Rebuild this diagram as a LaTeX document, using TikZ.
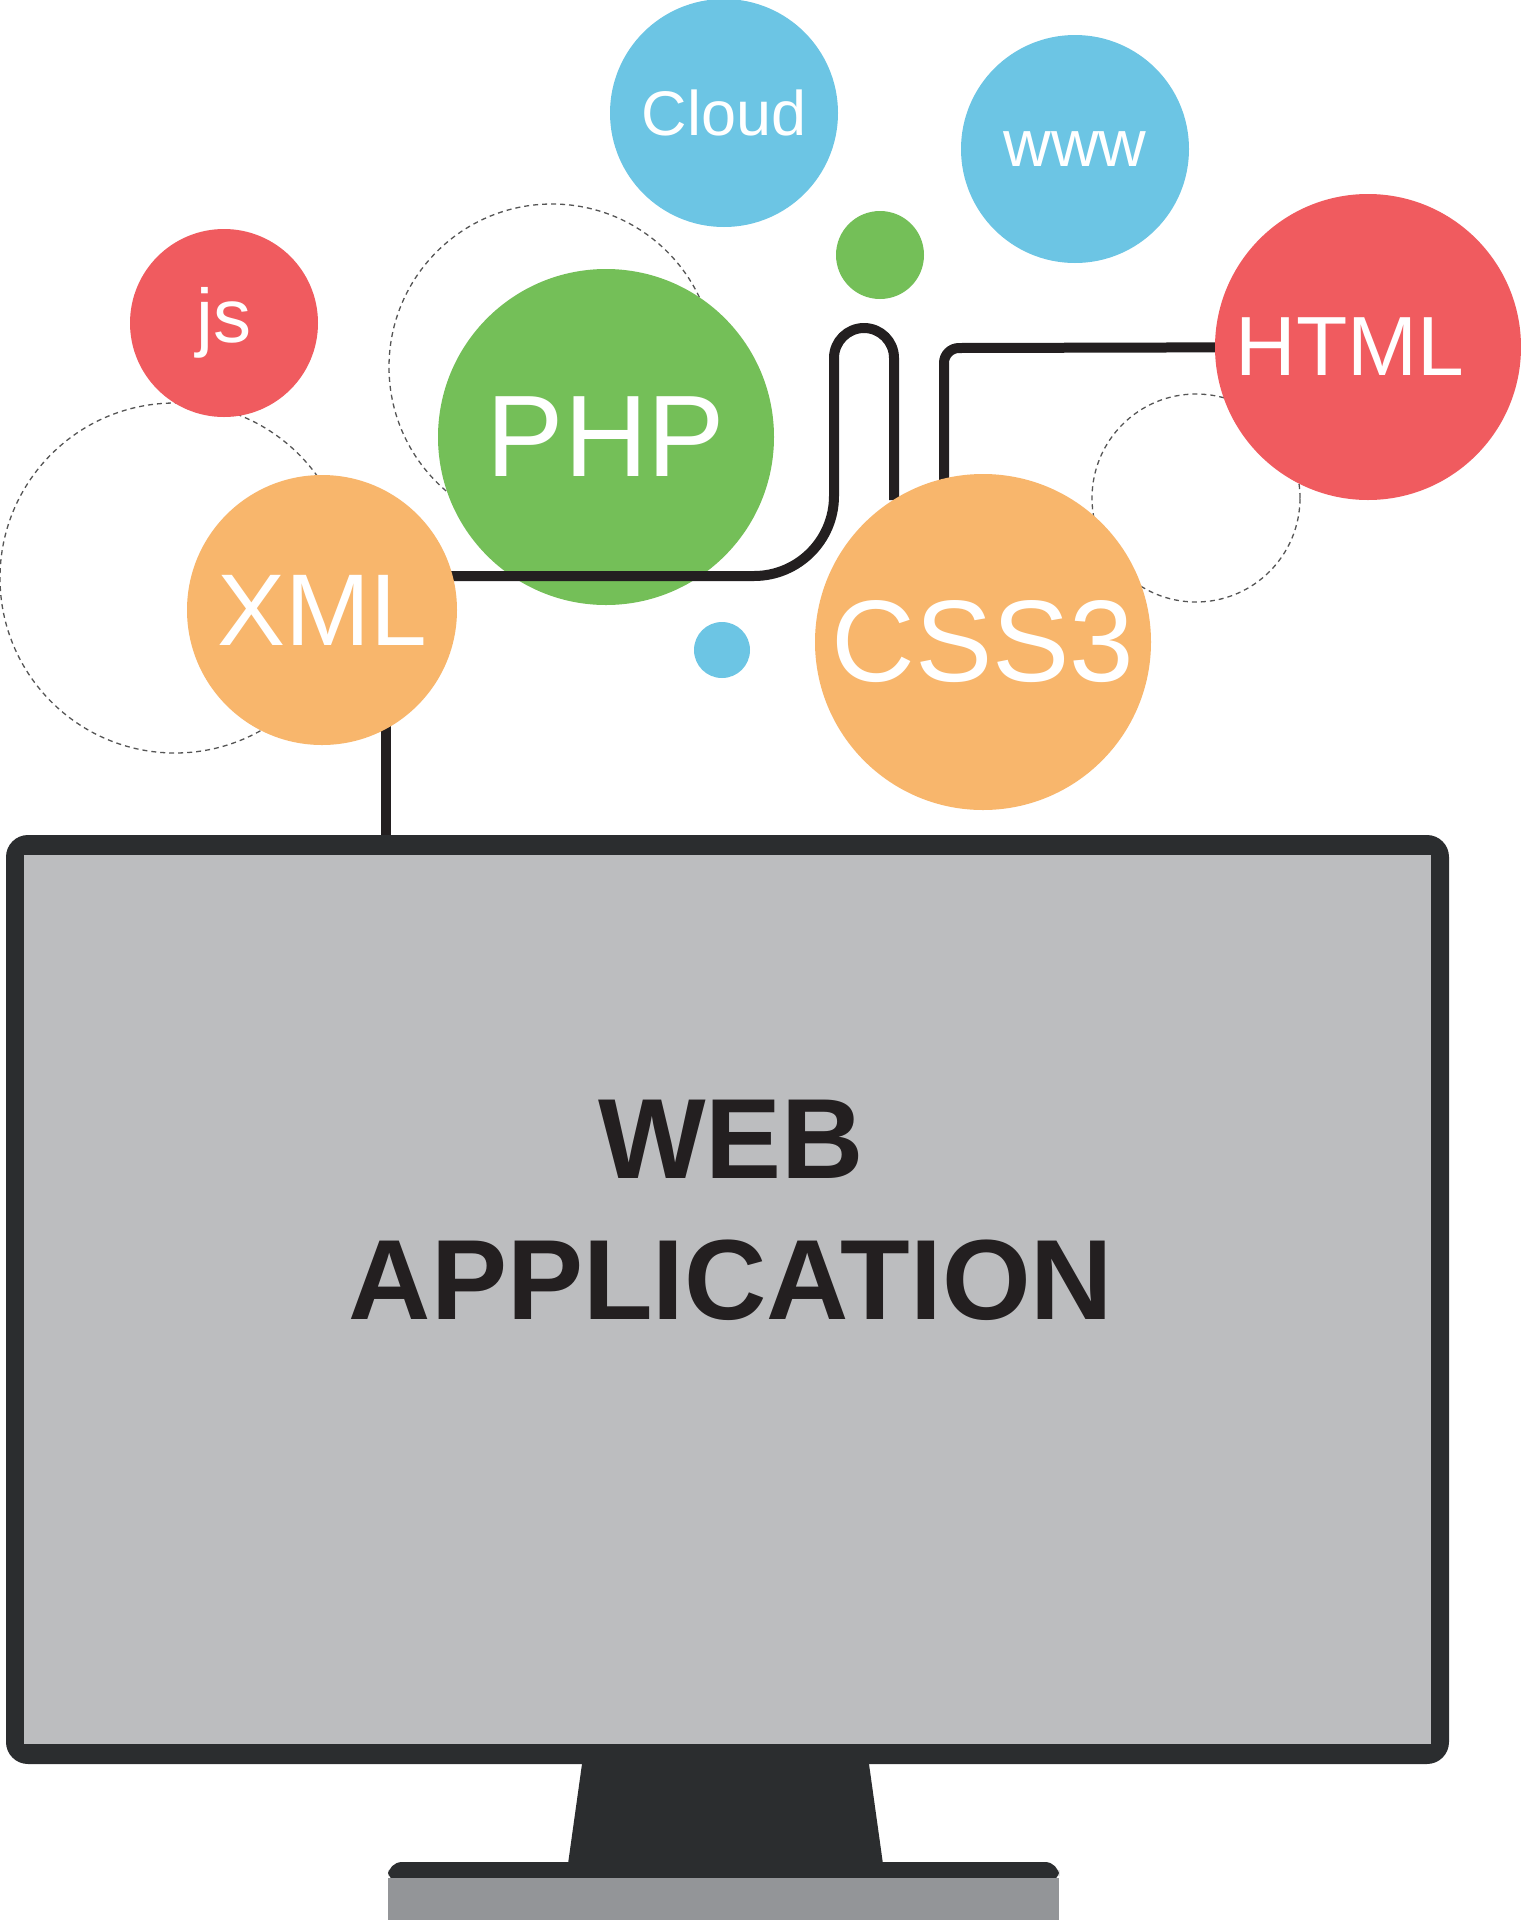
\documentclass[tikz,border=0pt]{standalone}
\usepackage{fontspec}
\setmainfont{Liberation Sans}
\usetikzlibrary{calc}
\definecolor{cred}{HTML}{F05B5F}
\definecolor{cblue}{HTML}{6CC5E4}
\definecolor{cgreen}{HTML}{74BF58}
\definecolor{corange}{HTML}{F8B66C}
\definecolor{cdark}{HTML}{2B2D2F}
\definecolor{cscreen}{HTML}{BCBDBF}
\definecolor{cbase}{HTML}{939598}
\definecolor{cwire}{HTML}{231F20}
\definecolor{cdash}{HTML}{555555}
\pgfdeclarelayer{paper}
\pgfdeclarelayer{back}
\pgfdeclarelayer{mid}
\pgfdeclarelayer{conn}
\pgfsetlayers{paper,back,mid,conn,main}
\begin{document}
\begin{tikzpicture}[x=1pt,y=1pt,
  bubble/.style={circle, inner sep=0pt, text=white},
  ghost/.style={circle, draw=cdash, dash pattern=on 5pt off 4pt, line width=1.3pt, inner sep=0pt},
  wire/.style={draw=cwire, line width=10pt},
  fsz/.style={font=\fontsize{#1}{#1}\selectfont},
  fszb/.style={font=\fontsize{#1}{#1}\selectfont\bfseries}]
\useasboundingbox (0,0) rectangle (1521,-1920);
\begin{pgfonlayer}{paper}
\fill[white] (0,0) rectangle (1521,-1920);
\end{pgfonlayer}

% dashed ghost circles
\begin{pgfonlayer}{back}
\node[ghost, minimum size=326] (g1) at (552,-367) {};
\node[ghost, minimum size=350] (g2) at (175,-578) {};
\node[ghost, minimum size=208] (g3) at (1196,-498) {};
\end{pgfonlayer}

\begin{pgfonlayer}{mid}
\node[bubble, fill=cgreen, minimum size=336, fsz=116] (php) at (606,-437) {PHP};
\end{pgfonlayer}

% bubbles
\node[bubble, fill=cblue, minimum size=228, fsz=63] (cloud) at (724,-113) {Cloud};
\node[bubble, fill=cblue, minimum size=228, fsz=66] (www) at (1075,-149) {www};
\node[bubble, fill=cgreen, minimum size=88] (gdot) at (880,-255) {};
\node[bubble, fill=cred, minimum size=188, fsz=76] (js) at (224,-323) {js};
\node[bubble, fill=cred, minimum size=306, fsz=84] (html) at (1368,-347) {\kern-36pt HTML};
\node[bubble, fill=corange, minimum size=270, fsz=102] (xml) at (322,-610) {XML};
\node[bubble, fill=corange, minimum size=336, fsz=116] (css) at (983,-642) {CSS3};
\node[bubble, fill=cblue, minimum size=56] (bdot) at (722,-650) {};

% monitor
\node[fill=cdark, rounded corners=22, minimum width=1443, minimum height=929, inner sep=0pt] (monitor) at (727.5,-1299.5) {};
\node[fill=cscreen, minimum width=1407, minimum height=889, inner sep=0pt] (screen) at (727.5,-1299.5) {};
\fill[cdark] (582,-1764) -- (869,-1764) -- (883,-1864) -- (568,-1864) -- cycle;
\fill[cdark, rounded corners=14] (388,-1884) -- (388,-1862) -- (1059,-1862) -- (1059,-1884) -- cycle;
\fill[cbase] (388,-1878) rectangle (1059,-1920);

\node[anchor=base, text=cwire, fszb=114] (web) at (731,-1178) {WEB};
\node[anchor=base, text=cwire, fszb=114] (app) at (731,-1319) {APPLICATION};

% connectors
\begin{pgfonlayer}{conn}
\coordinate (w1) at ($(xml.center)+(0,34)$);
\coordinate (w2) at ($(css.center)+(-229,66)$);
\coordinate (w3) at ($(css.center)+(-149,284)$);
\coordinate (w4) at ($(css.center)+(-89,142)$);
\draw[wire] (w1) -- (w2) arc[start angle=270, end angle=360, radius=80]
  -- (w3) arc[start angle=180, end angle=0, radius=30] -- (w4);
\coordinate (h1) at ($(css.center)+(-39,162)$);
\coordinate (h2) at ($(css.center)+(-39,279)$);
\draw[wire] (h1) -- (h2) arc[start angle=180, end angle=90, radius=15] -- (html.center);
\coordinate (xf) at ($(xml.center)+(64,0)$);
\draw[wire] (xf) -- (xf |- monitor.north);
\end{pgfonlayer}
\end{tikzpicture}
\end{document}
